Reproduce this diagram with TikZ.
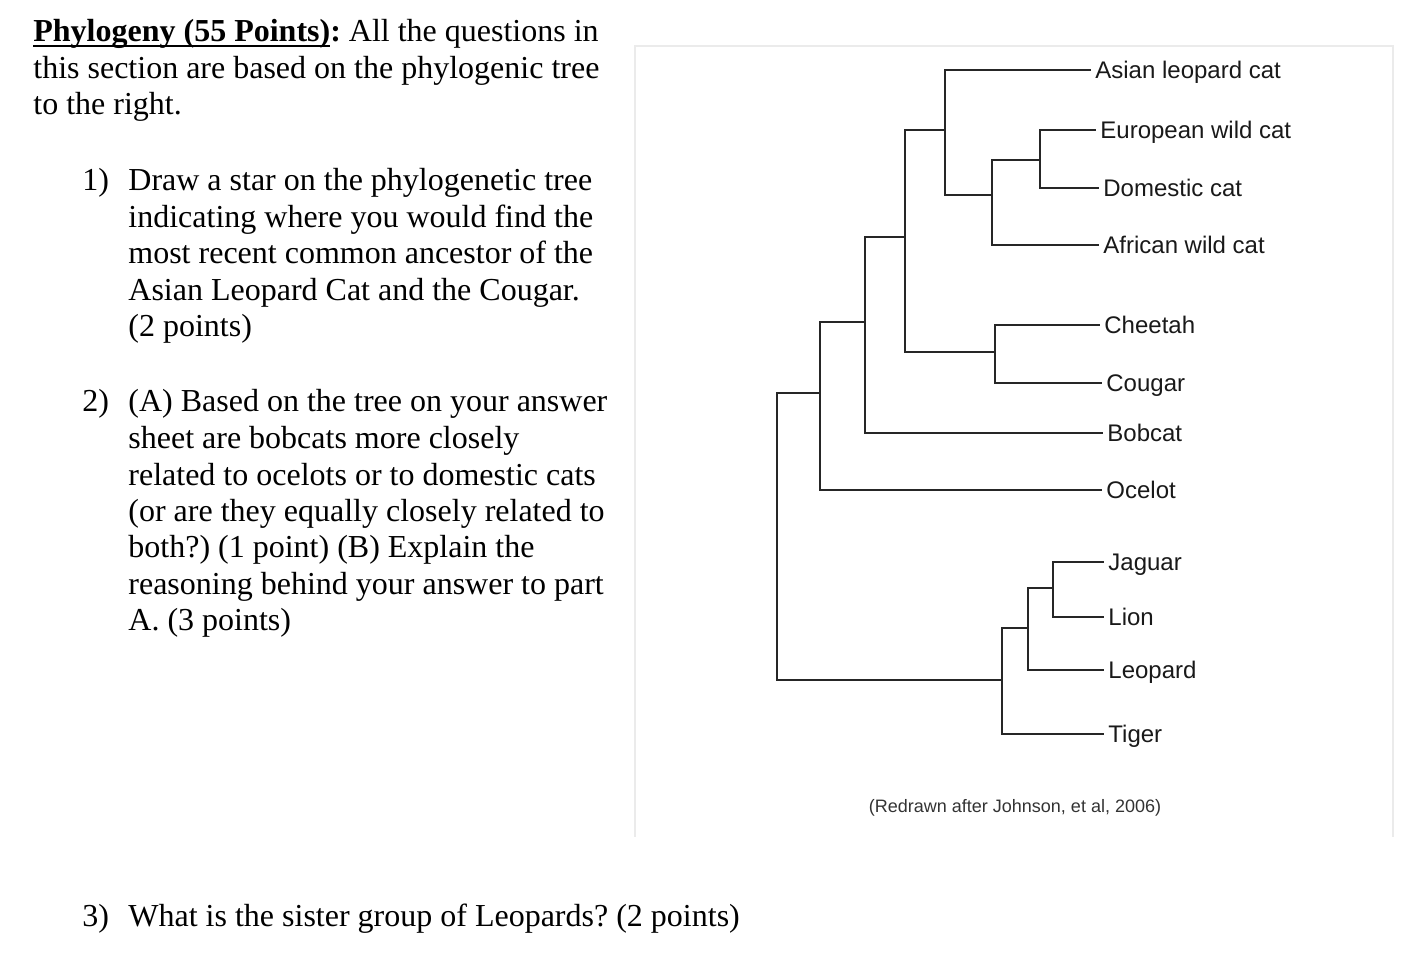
\documentclass[tikz,border=0pt]{standalone}
\usepackage{fontspec}
\setmainfont{Liberation Serif}
\newfontfamily\arialfont{Liberation Sans}
\usetikzlibrary{positioning}
\newcommand{\bodyFont}{\fontsize{16}{18.25}\selectfont\frenchspacing}
\newsavebox{\headBox}
\newcommand{\headUnder}[1]{%%
  \sbox{\headBox}{#1}\rlap{\rule[-2.6pt]{\wd\headBox}{1.1pt}}\usebox{\headBox}%%
}
\newcommand{\catLeaf}[4]{%%
  \node[leafStyle] (#1) at (#2,#3) {#4};
}
\newcommand{\branchTo}[2]{%%
  \draw[treeStyle] (#1) |- (#2);
}

\begin{document}
\begin{tikzpicture}[x=0.5pt,y=-0.5pt,%%
  treeStyle/.style={line width=1.1pt,black!85},%%
  leafStyle/.style={anchor=west,inner sep=2pt,font=\arialfont\fontsize{12}{14}\selectfont,text height=8.6pt,text depth=0pt,black!90},%%
  frameStyle/.style={line width=1.4pt,black!8},%%
  questionStyle/.style={anchor=base west,inner sep=0pt,align=left,font=\bodyFont}
]
\useasboundingbox (0,0) rectangle (1404,962);
%%
%% The questions on the left (placed by the baseline of their last line).
\node[questionStyle] (intro) at (33,115) {\headUnder{\textbf{Phylogeny (55 Points)}}\textbf{:} All the questions in\\
  this section are based on the phylogenic tree\\
  to the right.};
\node[questionStyle] (qonenum) at (82,191) {1)};
\node[questionStyle] (qone) at (128,337) {Draw a star on the phylogenetic tree\\
  indicating where you would find the\\
  most recent common ancestor of the\\
  Asian Leopard Cat and the Cougar.\\
  (2 points)};
\node[questionStyle] (qtwonum) at (82,412) {2)};
\node[questionStyle] (qtwo) at (128,631) {(A) Based on the tree on your answer\\
  sheet are bobcats more closely\\
  related to ocelots or to domestic cats\\
  (or are they equally closely related to\\
  both?) (1 point) (B) Explain the\\
  reasoning behind your answer to part\\
  A. (3 points)};
\node[questionStyle] (qthreenum) at (82,926) {3)};
\node[questionStyle] (qthree) at (128,926) {What is the sister group of Leopards? (2 points)};
%%
%% The frame of the tree picture.
\draw[frameStyle] (635,837) -- (635,46) -- (1393,46) -- (1393,837);
%%
%% The leaves.
\catLeaf{asian}{1091}{70}{Asian leopard cat}
\catLeaf{european}{1096}{130}{European wild cat}
\catLeaf{domestic}{1099}{188}{Domestic cat}
\catLeaf{african}{1099}{245}{African wild cat}
\catLeaf{cheetah}{1100}{325}{Cheetah}
\catLeaf{cougar}{1102}{383}{Cougar}
\catLeaf{bobcat}{1103}{433}{Bobcat}
\catLeaf{ocelot}{1102}{490}{Ocelot}
\catLeaf{jaguar}{1104}{562}{Jaguar}
\catLeaf{lion}{1104}{617}{Lion}
\catLeaf{leopard}{1104}{670}{Leopard}
\catLeaf{tiger}{1104}{734}{Tiger}
%%
%% The inner nodes of the tree.
\coordinate (root) at (777,537);
\coordinate (felis) at (820,393);
\coordinate (lynx) at (865,322);
\coordinate (puma) at (905,237);
\coordinate (wildcat) at (945,130);
\coordinate (silvestris) at (992,195);
\coordinate (eurodom) at (1040,160);
\coordinate (acinonyx) at (995,352);
\coordinate (panthera) at (1002,680);
\coordinate (bigcats) at (1028,628);
\coordinate (jaglion) at (1053,588);
%%
%% Branches.
\branchTo{root}{felis}
\branchTo{root}{panthera}
\branchTo{felis}{lynx}
\branchTo{felis}{ocelot.west}
\branchTo{lynx}{puma}
\branchTo{lynx}{bobcat.west}
\branchTo{puma}{wildcat}
\branchTo{puma}{acinonyx}
\branchTo{wildcat}{asian.west}
\branchTo{wildcat}{silvestris}
\branchTo{silvestris}{eurodom}
\branchTo{silvestris}{african.west}
\branchTo{eurodom}{european.west}
\branchTo{eurodom}{domestic.west}
\branchTo{acinonyx}{cheetah.west}
\branchTo{acinonyx}{cougar.west}
\branchTo{panthera}{bigcats}
\branchTo{panthera}{tiger.west}
\branchTo{bigcats}{jaglion}
\branchTo{bigcats}{leopard.west}
\branchTo{jaglion}{jaguar.west}
\branchTo{jaglion}{lion.west}
%%
%% Source of the tree.
\node[font=\arialfont\fontsize{9}{11}\selectfont,black!80] (source) at (1015,808) {(Redrawn after Johnson, et al, 2006)};
\end{tikzpicture}
\end{document}
